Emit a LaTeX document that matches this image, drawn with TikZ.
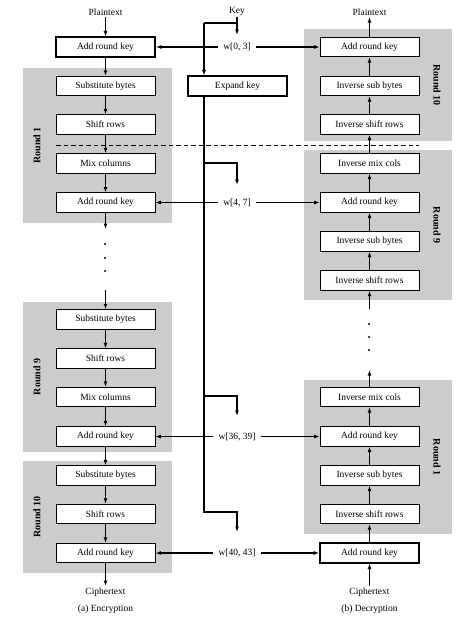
\documentclass[tikz,border=0pt]{standalone}
\usepackage{fontspec}
\setmainfont{Liberation Serif}
\usetikzlibrary{arrows.meta}
\begin{document}
\begin{tikzpicture}[x=1pt,y=-1pt,
 bx/.style={draw, fill=white, line width=0.8pt, minimum width=99pt, minimum height=19.5pt, inner sep=0pt, font=\fontsize{9.5}{11}\selectfont},
 tbx/.style={bx, line width=1.6pt},
 rnd/.style={fill=black!20, draw=none},
 lbl/.style={font=\fontsize{9.5}{11}\selectfont, inner sep=1.5pt},
 wlbl/.style={lbl, inner xsep=5pt},
 rl/.style={font=\bfseries\fontsize{10}{12}\selectfont, rotate=90},
 rr/.style={font=\bfseries\fontsize{10}{12}\selectfont, rotate=-90},
 dot/.style={circle, fill=black, inner sep=0pt, minimum size=2.2pt},
 ar/.style={-{Latex[length=5.5pt,width=4pt]}, line width=1.1pt},
 ln/.style={line width=1.1pt}]
\useasboundingbox (0,0) rectangle (474,621);
\fill[white] (0,0) rectangle (474,621);
% round backgrounds
\fill[rnd] (23,68) rectangle (172,223);
\fill[rnd] (23,302) rectangle (172,452);
\fill[rnd] (23,461) rectangle (172,573);
\fill[rnd] (304,29) rectangle (452,141);
\fill[rnd] (304,150) rectangle (452,300);
\fill[rnd] (304,380) rectangle (452,534);
% encryption column
\node[tbx] (e0) at (105.5,47) {Add round key};
\node[bx] (e1) at (105.5,86) {Substitute bytes};
\node[bx] (e2) at (105.5,124.5) {Shift rows};
\node[bx] (e3) at (105.5,163.5) {Mix columns};
\node[bx] (e4) at (105.5,202.5) {Add round key};
\node[bx] (e5) at (105.5,319.5) {Substitute bytes};
\node[bx] (e6) at (105.5,358.5) {Shift rows};
\node[bx] (e7) at (105.5,397) {Mix columns};
\node[bx] (e8) at (105.5,436.5) {Add round key};
\node[bx] (e9) at (105.5,475.5) {Substitute bytes};
\node[bx] (e10) at (105.5,514) {Shift rows};
\node[bx] (e11) at (105.5,553) {Add round key};
% decryption column
\node[bx] (d0) at (369.5,47) {Add round key};
\node[bx] (d1) at (369.5,86) {Inverse sub bytes};
\node[bx] (d2) at (369.5,124.5) {Inverse shift rows};
\node[bx] (d3) at (369.5,163.5) {Inverse mix cols};
\node[bx] (d4) at (369.5,202.5) {Add round key};
\node[bx] (d5) at (369.5,241.5) {Inverse sub bytes};
\node[bx] (d6) at (369.5,280.5) {Inverse shift rows};
\node[bx] (d7) at (369.5,397) {Inverse mix cols};
\node[bx] (d8) at (369.5,436.5) {Add round key};
\node[bx] (d9) at (369.5,475.5) {Inverse sub bytes};
\node[bx] (d10) at (369.5,514) {Inverse shift rows};
\node[tbx] (d11) at (369.5,553) {Add round key};
% key schedule
\node[tbx] (ek) at (237.5,86) {Expand key};
\node[lbl] (key) at (237,11) {Key};
\node[wlbl] (w0) at (237,47) {w[0, 3]};
\node[wlbl] (w1) at (237,202.5) {w[4, 7]};
\node[wlbl] (w2) at (237,436.5) {w[36, 39]};
\node[wlbl] (w3) at (237,553) {w[40, 43]};
% texts
\node[lbl] (pt) at (105.5,12) {Plaintext};
\node[lbl] (pt2) at (369.5,12) {Plaintext};
\node[lbl] (ct) at (105.5,592) {Ciphertext};
\node[lbl] (ct2) at (369.5,592) {Ciphertext};
\node[lbl] (enc) at (105.5,609) {(a) Encryption};
\node[lbl] (dec) at (369.5,609) {(b) Decryption};
% round labels
\node[rl] (r1) at (37,145.5) {Round 1};
\node[rl] (r9) at (37,377) {Round 9};
\node[rl] (r10) at (37,517) {Round 10};
\node[rr] (R10) at (437,85) {Round 10};
\node[rr] (R9) at (437,225) {Round 9};
\node[rr] (R1) at (437,457) {Round 1};
% dots
\node[dot] (ld1) at (105,244) {};
\node[dot] (ld2) at (105,258) {};
\node[dot] (ld3) at (105,271) {};
\node[dot] (rd1) at (369,324) {};
\node[dot] (rd2) at (369,337) {};
\node[dot] (rd3) at (369,350) {};
% coordinates
\coordinate (ldA) at (105.5,229);
\coordinate (ldB) at (105.5,290);
\coordinate (rdA) at (369.5,309);
\coordinate (rdB) at (369.5,370);
\coordinate (k0) at (204,23);
\coordinate (k1) at (237,23);
\coordinate (kw0) at (237,35);
\coordinate (kb1) at (204,163);
\coordinate (kc1) at (237,163);
\coordinate (ke1) at (237,185);
\coordinate (kb2) at (204,396);
\coordinate (kc2) at (237,396);
\coordinate (ke2) at (237,416);
\coordinate (kb3) at (204,512);
\coordinate (kc3) at (237,512);
\coordinate (ke3) at (237,532);
\coordinate (dl) at (56,145.5);
\coordinate (dr) at (419,145.5);
% encryption arrows
\draw[ar] (pt) -- (e0);
\draw[ar] (e0) -- (e1);
\draw[ar] (e1) -- (e2);
\draw[ar] (e2) -- (e3);
\draw[ar] (e3) -- (e4);
\draw[ar] (e4) -- (ldA);
\draw[ar] (ldB) -- (e5);
\draw[ar] (e5) -- (e6);
\draw[ar] (e6) -- (e7);
\draw[ar] (e7) -- (e8);
\draw[ar] (e8) -- (e9);
\draw[ar] (e9) -- (e10);
\draw[ar] (e10) -- (e11);
\draw[ar] (e11) -- (ct);
% decryption arrows
\draw[ar] (d0) -- (pt2);
\draw[ar] (d1) -- (d0);
\draw[ar] (d2) -- (d1);
\draw[ar] (d3) -- (d2);
\draw[ar] (d4) -- (d3);
\draw[ar] (d5) -- (d4);
\draw[ar] (d6) -- (d5);
\draw[ar] (rdA) -- (d6);
\draw[ar] (d7) -- (rdB);
\draw[ar] (d8) -- (d7);
\draw[ar] (d9) -- (d8);
\draw[ar] (d10) -- (d9);
\draw[ar] (d11) -- (d10);
\draw[ar] (ct2) -- (d11);
% key arrows
\draw[ar] (key) -- (kw0);
\draw[ln] (k1) -- (k0);
\draw[ar] (k0) -- (ek.north -| k0);
\draw[ar] (ek.south -| k0) -- (kb3) -- (kc3) -- (ke3);
\draw[ar] (kb1) -- (kc1) -- (ke1);
\draw[ar] (kb2) -- (kc2) -- (ke2);
\draw[ar] (w0) -- (e0);
\draw[ar] (w0) -- (d0);
\draw[ar] (w1) -- (e4);
\draw[ar] (w1) -- (d4);
\draw[ar] (w2) -- (e8);
\draw[ar] (w2) -- (d8);
\draw[ar] (w3) -- (e11);
\draw[ar] (w3) -- (d11);
% dashed separator
\draw[line width=1.6pt, dash pattern=on 4.5pt off 3pt] (dl) -- (dr);
\end{tikzpicture}
\end{document}
